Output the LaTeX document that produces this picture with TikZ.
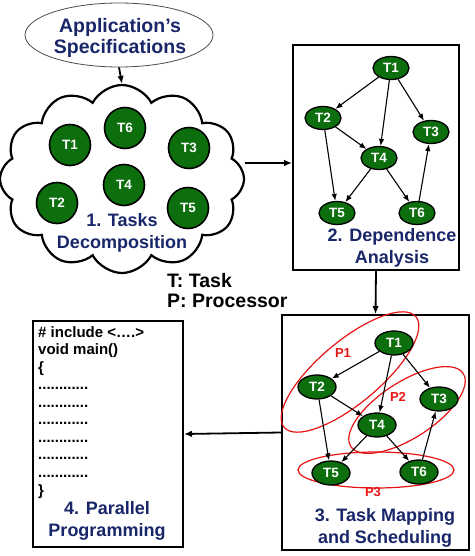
\documentclass[tikz,border=0pt]{standalone}
\usepackage{fontspec}
\setmainfont{Liberation Sans}
\usetikzlibrary{shapes.geometric,shapes.symbols,arrows.meta}
\definecolor{tgreen}{RGB}{12,110,12}
\definecolor{navy}{RGB}{25,38,105}
\definecolor{pred}{RGB}{230,20,20}
\begin{document}
\begin{tikzpicture}[x=1pt,y=-1pt,
  arr/.style={-{Latex[length=8pt,width=6.5pt]},line width=1.8pt},
  garr/.style={-{Latex[length=7pt,width=5.5pt]},line width=1.1pt},
  cnode/.style={circle,fill=tgreen,draw=black,line width=1.6pt,minimum size=41pt,inner sep=0pt,text=white,font=\bfseries\fontsize{13.5}{13.5}\selectfont},
  gnode/.style={ellipse,fill=tgreen,draw=black,line width=1.3pt,minimum width=36pt,minimum height=23pt,inner sep=0pt,text=white,font=\bfseries\fontsize{13.5}{13.5}\selectfont},
  gnodeb/.style={gnode,minimum width=38pt,minimum height=24pt},
  lbl/.style={text=navy,font=\bfseries\fontsize{18}{22}\selectfont,align=center,inner sep=0pt},
  box/.style={draw=black,line width=1.8pt,fill=white,inner sep=0pt},
  pell/.style={draw=pred,line width=1.2pt},
  plbl/.style={text=pred,font=\bfseries\fontsize{13}{13}\selectfont,inner sep=0pt}]
\useasboundingbox (0,0) rectangle (474,556);
% top ellipse
\node[ellipse,draw=black!70,line width=0.8pt,minimum width=188pt,minimum height=64pt,inner sep=0pt] (app) at (119,35) {};
\node[lbl,font=\bfseries\fontsize{19.5}{21}\selectfont] (apptxt) at (120,38) {Application's\\Specifications};
% cloud
\node[cloud,draw=black,line width=2.2pt,fill=white,cloud puffs=12,cloud puff arc=125,aspect=1.3,minimum width=244pt,minimum height=188pt,inner sep=0pt] (cloud) at (122,179) {};
\draw[arr] (app.south) -- (cloud.north);
\node[cnode] (c1) at (70,145) {T1};
\node[cnode] (c6) at (125,128) {T6};
\node[cnode] (c3) at (189,148) {T3};
\node[cnode] (c2) at (57,203) {T2};
\node[cnode] (c4) at (124,185) {T4};
\node[cnode] (c5) at (188,208) {T5};
\node[lbl] (l1) at (122,233) {1. Tasks\\Decomposition};
% box 2
\node[box,minimum width=166pt,minimum height=225pt] (box2) at (376,157.5) {};
\coordinate (y163) at (0,163);
\draw[arr] (cloud.east |- y163) -- (box2.west |- y163);
\node[gnode] (a1) at (391,68) {T1};
\node[gnode] (a2) at (323,118) {T2};
\node[gnode] (a3) at (431,132) {T3};
\node[gnode] (a4) at (379,158) {T4};
\node[gnode] (a5) at (337,213) {T5};
\node[gnode] (a6) at (417,213) {T6};
\draw[garr] (a1) -- (a2);
\draw[garr] (a1) -- (a4);
\draw[garr] (a1) -- (a3);
\draw[garr] (a2) -- (a4);
\draw[garr] (a2) -- (a5);
\draw[garr] (a4) -- (a5);
\draw[garr] (a4) -- (a6);
\draw[garr] (a6) -- (a3);
\node[lbl] (l2) at (392,247.5) {2. Dependence\\Analysis};
% legend
\node[anchor=west,align=left,font=\bfseries\fontsize{19.5}{19.5}\selectfont,inner sep=0pt] (legend) at (167,290.5) {T: Task\\P: Processor};
% box 3
\node[box,minimum width=187pt,minimum height=235pt] (box3) at (375.5,432.5) {};
\draw[arr] (box2.south) -- (box3.north);
\draw[pell,rotate around={40:(350,372)}] (350,372) ellipse [x radius=86pt,y radius=31pt];
\draw[pell,rotate around={33:(407,410)}] (407,410) ellipse [x radius=67pt,y radius=28pt];
\draw[pell] (376,470) ellipse [x radius=78pt,y radius=18pt];
\node[gnodeb] (b1) at (394,343) {T1};
\node[gnodeb] (b2) at (317,387) {T2};
\node[gnodeb] (b3) at (439,399) {T3};
\node[gnodeb] (b4) at (377,425) {T4};
\node[gnodeb] (b5) at (331,473) {T5};
\node[gnodeb] (b6) at (419,472) {T6};
\draw[garr] (b1) -- (b2);
\draw[garr] (b1) -- (b4);
\draw[garr] (b1) -- (b3);
\draw[garr] (b2) -- (b4);
\draw[garr] (b2) -- (b5);
\draw[garr] (b4) -- (b5);
\draw[garr] (b4) -- (b6);
\draw[garr] (b6) -- (b3);
\node[plbl] (p1) at (343,353) {P1};
\node[plbl] (p2) at (398,397) {P2};
\node[plbl] (p3) at (373,492) {P3};
\node[lbl] (l3) at (385,527.5) {3. Task Mapping\\and Scheduling};
% box 4
\node[box,minimum width=150pt,minimum height=226pt] (box4) at (108,434) {};
\draw[arr] (box3.west) -- (box4.east);
\node[anchor=north west,align=left,font=\bfseries\fontsize{15}{17.55}\selectfont,inner sep=0pt] (code) at (38,326) {\# include <\dots.>\\void main()\\\{\\............\\............\\............\\............\\............\\............\\\}};
\node[lbl] (l4) at (107,521) {4. Parallel\\Programming};
\end{tikzpicture}
\end{document}
